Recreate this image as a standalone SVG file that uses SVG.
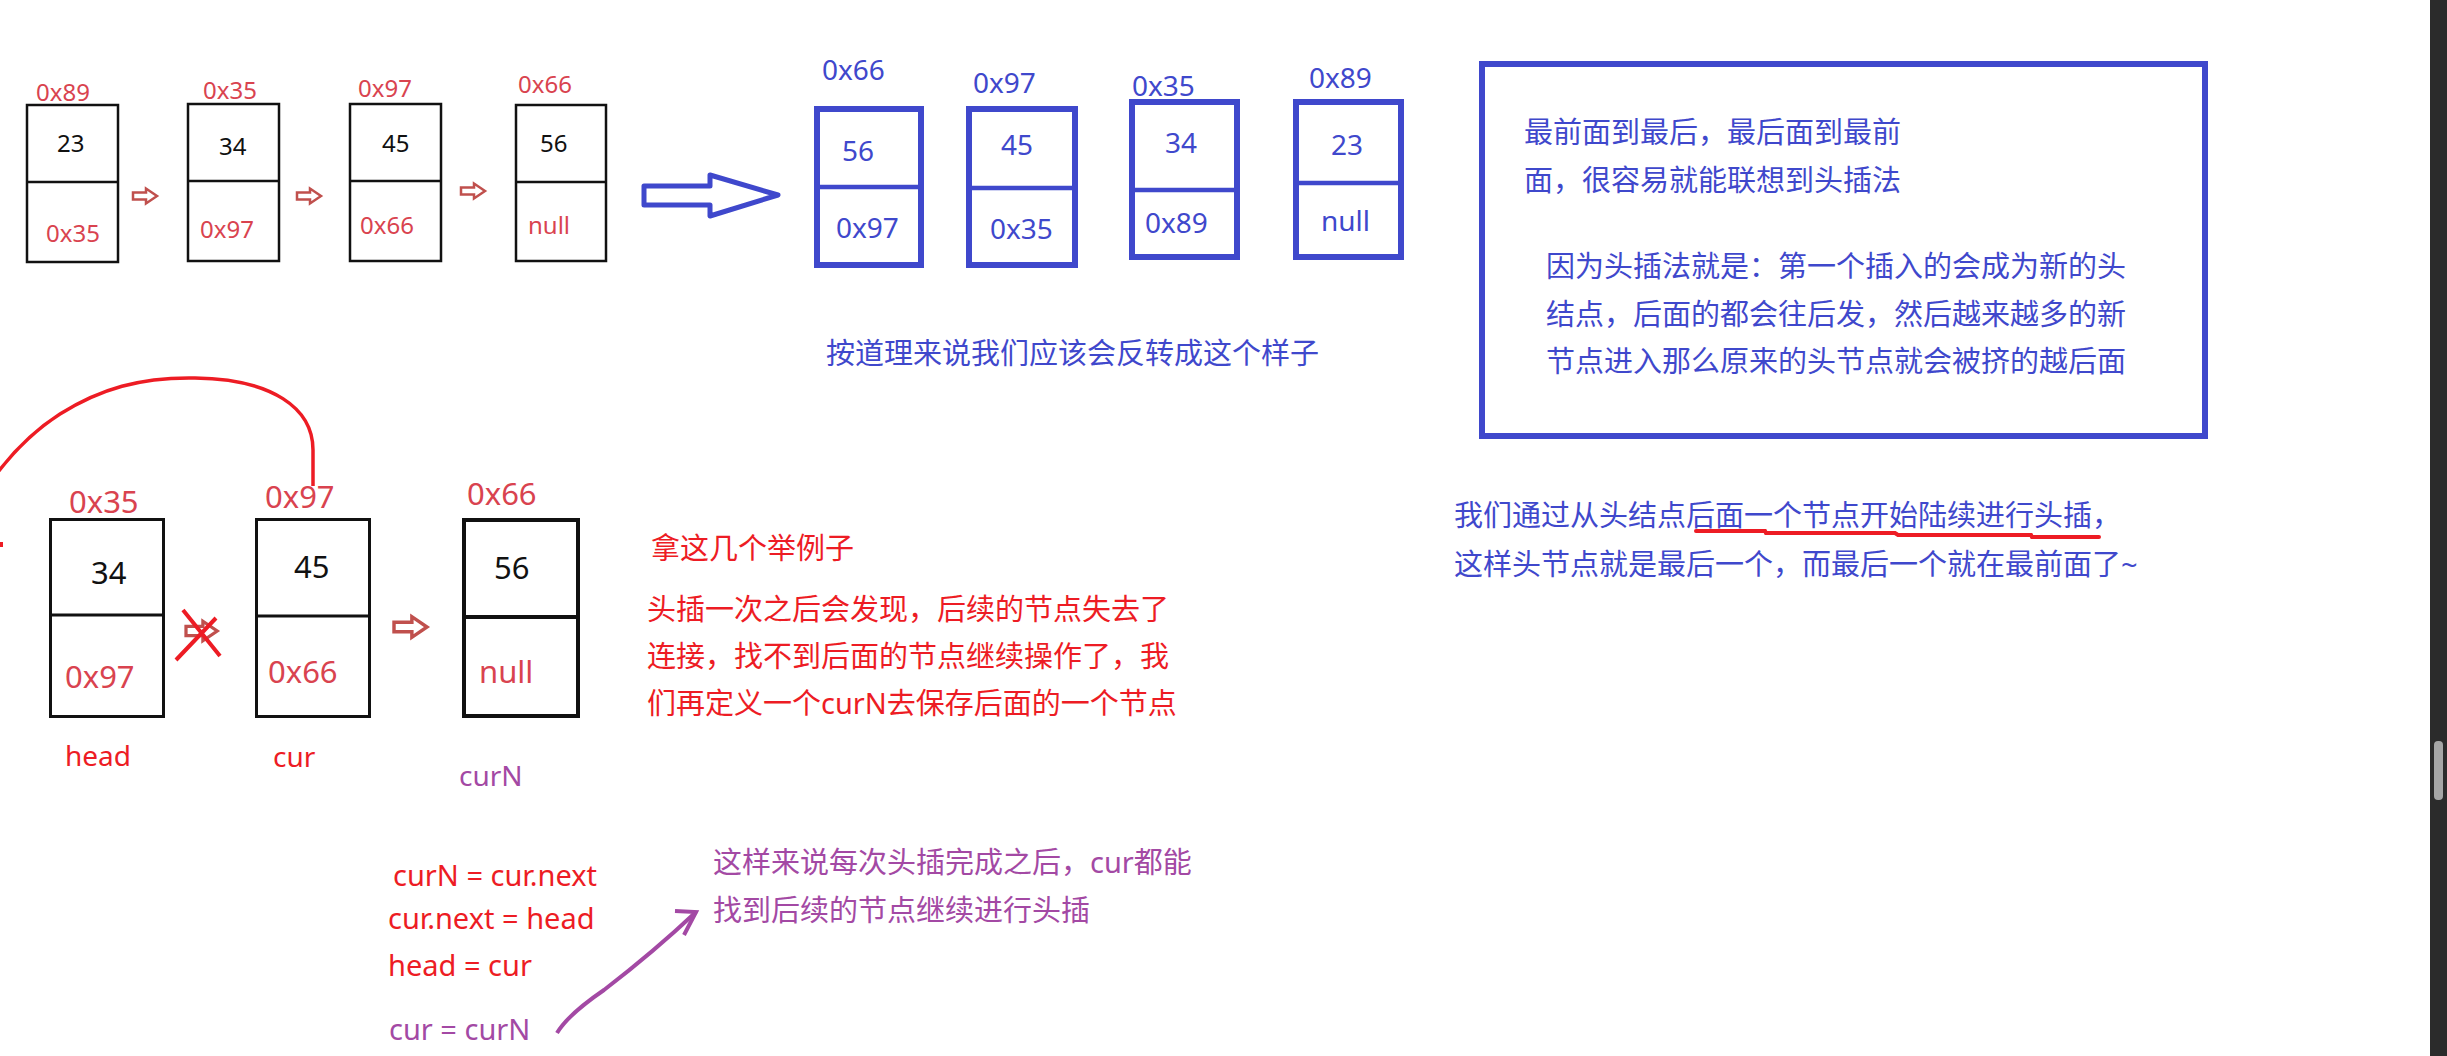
<svg xmlns="http://www.w3.org/2000/svg" xmlns:xlink="http://www.w3.org/1999/xlink" width="2447" height="1056" viewBox="0 0 2447 1056">
<style>
text{font-family:"Noto Sans","Noto Sans CJK SC",sans-serif}
.bk{fill:none;stroke:#111;stroke-width:2.5}
.bk3{fill:none;stroke:#111;stroke-width:3}
.bl{fill:none;stroke:#3F48CC;stroke-width:6}
.bld{stroke:#3F48CC;stroke-width:4.5}
.t24{font-size:24px}
.t28{font-size:28px}
.t29{font-size:29px}
.t31{font-size:31px}
.hx{fill:#d9434f}
.num{fill:#111}
.blt{fill:#3F48CC}
.red{fill:#ED1C24}
.pur{fill:#A349A4}
.sa{fill:#fff;stroke:#c0504d;stroke-width:2.5}
</style>
<defs>
<path id="sarrow" d="M0,-3.5 H13 V-7.5 L24,0 L13,7.5 V3.5 H0 Z"/>
</defs>
<rect width="2447" height="1056" fill="#fff"/>

<!-- top row original list -->
<g id="n89">
<rect class="bk" x="27" y="105" width="91" height="157"/>
<line class="bk" x1="27" y1="182" x2="118" y2="182"/>
<text class="t24 hx" x="36" y="101">0x89</text>
<text class="t24 num" x="57" y="152">23</text>
<text class="t24 hx" x="46" y="242">0x35</text>
</g>
<g id="n35">
<rect class="bk" x="188" y="104" width="91" height="157"/>
<line class="bk" x1="188" y1="181" x2="279" y2="181"/>
<text class="t24 hx" x="203" y="99">0x35</text>
<text class="t24 num" x="219" y="155">34</text>
<text class="t24 hx" x="200" y="238">0x97</text>
</g>
<g id="n97">
<rect class="bk" x="350" y="104" width="91" height="157"/>
<line class="bk" x1="350" y1="181" x2="441" y2="181"/>
<text class="t24 hx" x="358" y="97">0x97</text>
<text class="t24 num" x="382" y="152">45</text>
<text class="t24 hx" x="360" y="234">0x66</text>
</g>
<g id="n66">
<rect class="bk" x="516" y="105" width="90" height="156"/>
<line class="bk" x1="516" y1="182" x2="606" y2="182"/>
<text class="t24 hx" x="518" y="93">0x66</text>
<text class="t24 num" x="540" y="152">56</text>
<text class="t24 hx" x="528" y="234">null</text>
</g>

<!-- reversed list (blue) -->
<g id="r66">
<rect class="bl" x="817" y="109" width="104" height="156"/>
<line class="bld" x1="817" y1="187" x2="921" y2="187"/>
<text class="t28 blt" x="822" y="80">0x66</text>
<text class="t28 blt" x="842" y="161">56</text>
<text class="t28 blt" x="836" y="238">0x97</text>
</g>
<g id="r97">
<rect class="bl" x="969" y="109" width="106" height="156"/>
<line class="bld" x1="969" y1="188" x2="1073" y2="188"/>
<text class="t28 blt" x="973" y="93">0x97</text>
<text class="t28 blt" x="1001" y="155">45</text>
<text class="t28 blt" x="990" y="239">0x35</text>
</g>
<g id="r35">
<rect class="bl" x="1132" y="102" width="105" height="155"/>
<line class="bld" x1="1132" y1="190" x2="1237" y2="190"/>
<text class="t28 blt" x="1132" y="96">0x35</text>
<text class="t28 blt" x="1165" y="153">34</text>
<text class="t28 blt" x="1145" y="233">0x89</text>
</g>
<g id="r89">
<rect class="bl" x="1296" y="102" width="105" height="155"/>
<line class="bld" x1="1296" y1="183" x2="1401" y2="183"/>
<text class="t28 blt" x="1309" y="88">0x89</text>
<text class="t28 blt" x="1331" y="155">23</text>
<text class="t28 blt" x="1321" y="231">null</text>
</g>
<g id="caption">
<text class="t29 blt" x="826" y="364">按道理来说我们应该会反转成这个样子</text>
</g>

<!-- explanation box -->
<g id="note">
<rect class="bl" x="1482" y="64" width="723" height="372"/>
<text class="t29 blt" x="1524" y="143">最前面到最后，最后面到最前</text>
<text class="t29 blt" x="1524" y="191">面，很容易就能联想到头插法</text>
<text class="t29 blt" x="1546" y="277">因为头插法就是：第一个插入的会成为新的头</text>
<text class="t29 blt" x="1546" y="325">结点，后面的都会往后发，然后越来越多的新</text>
<text class="t29 blt" x="1546" y="372">节点进入那么原来的头节点就会被挤的越后面</text>
</g>
<g id="note2">
<text class="t29 blt" x="1454" y="526">我们通过从头结点后面一个节点开始陆续进行头插，</text>
<text class="t29 blt" x="1454" y="575">这样头节点就是最后一个，而最后一个就在最前面了~</text>
<path d="M1696,531 L1765,531 L1766,533 L1895,533 L1898,535 L2031,535 L2032,537 L2099,537" fill="none" stroke="#ED1C24" stroke-width="4" stroke-linecap="round"/>
</g>

<!-- lower example -->
<g id="head">
<rect class="bk3" x="50.5" y="519.5" width="113" height="197"/>
<line class="bk3" x1="50.5" y1="615" x2="163.5" y2="615"/>
<text class="t31 hx" x="69" y="513">0x35</text>
<text class="t31 num" x="91" y="584">34</text>
<text class="t31 hx" x="65" y="688">0x97</text>
<text class="t28 red" x="65" y="766">head</text>
</g>
<g id="cur">
<rect class="bk3" x="256.5" y="519.5" width="113" height="197"/>
<line class="bk3" x1="256.5" y1="616" x2="369.5" y2="616"/>
<text class="t31 hx" x="265" y="508">0x97</text>
<text class="t31 num" x="294" y="578">45</text>
<text class="t31 hx" x="268" y="683">0x66</text>
<text class="t28 red" x="273" y="767">cur</text>
</g>
<g id="curN">
<rect fill="none" stroke="#111" stroke-width="4" x="464" y="520" width="114" height="196"/>
<line stroke="#111" stroke-width="4" x1="464" y1="617" x2="578" y2="617"/>
<text class="t31 hx" x="467" y="505">0x66</text>
<text class="t31 num" x="494" y="579">56</text>
<text class="t31 hx" x="479" y="683">null</text>
<text class="t28 pur" x="459" y="786">curN</text>
</g>

<g id="explain-red">
<text class="t29 red" x="651" y="559">拿这几个举例子</text>
<text class="t29 red" x="647" y="620">头插一次之后会发现，后续的节点失去了</text>
<text class="t29 red" x="647" y="667">连接，找不到后面的节点继续操作了，我</text>
<text class="t29 red" x="647" y="714">们再定义一个curN去保存后面的一个节点</text>
</g>

<g id="code">
<text class="t29 red" x="393" y="886">curN = cur.next</text>
<text class="t29 red" x="388" y="929">cur.next = head</text>
<text class="t29 red" x="388" y="976">head = cur</text>
<text class="t29 pur" x="389" y="1040">cur = curN</text>
</g>
<g id="explain-purple">
<text class="t29 pur" x="713" y="873">这样来说每次头插完成之后，cur都能</text>
<text class="t29 pur" x="713" y="921">找到后续的节点继续进行头插</text>
</g>

<!-- connectors -->
<g id="connectors">
<use xlink:href="#sarrow" class="sa" transform="translate(133,196)"/>
<use xlink:href="#sarrow" class="sa" transform="translate(297,196)"/>
<use xlink:href="#sarrow" class="sa" transform="translate(461,191)"/>
<path d="M644,186 L710,186 L710,175 L778,195 L710,216 L710,205 L644,205 Z" fill="#fff" stroke="#3F48CC" stroke-width="5" stroke-linejoin="round"/>
<use xlink:href="#sarrow" class="sa" transform="translate(186,631) scale(1.3)"/>
<path d="M183,610 L220,656 M216,618 L176,660" stroke="#ED1C24" stroke-width="4" fill="none"/>
<use xlink:href="#sarrow" class="sa" transform="translate(394,627) scale(1.375)"/>
<path d="M313,486 L313,450 C313,408 272,379 195,378 C140,377 100,389 60,414 C35,430 15,450 -2,472" fill="none" stroke="#ED1C24" stroke-width="3.5"/>
<rect x="0" y="542" width="3" height="5" fill="#ED1C24"/>
<path d="M557,1033 C566,1018 585,1003 604,990 C630,970 660,946 696,912" fill="none" stroke="#A349A4" stroke-width="4"/>
<path d="M675,911 L696,912 L684,935" fill="none" stroke="#A349A4" stroke-width="4"/>
</g>

<!-- scrollbar -->
<rect x="2430" y="0" width="17" height="1056" fill="#2b2b2b"/>
<rect x="2434" y="741" width="9" height="59" rx="4" fill="#a6a6a6"/>
</svg>
